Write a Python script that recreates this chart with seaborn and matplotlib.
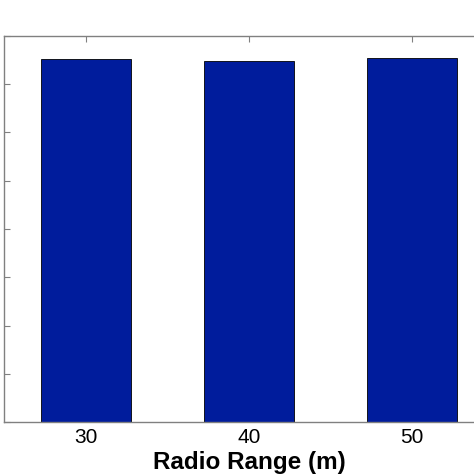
import pandas as pd
import seaborn as sns
import matplotlib.pyplot as plt

# =============================================================================
# Data
# =============================================================================
radio_range = ['30', '40', '50']
values = [0.752, 0.749, 0.754]

df = pd.DataFrame({'Radio Range': radio_range, 'Value': values})

# =============================================================================
# Plotting
# =============================================================================
sns.set_style('white')
plt.rcParams['font.family'] = ['Liberation Sans', 'DejaVu Sans']
plt.rcParams['text.color'] = 'black'
plt.rcParams['axes.labelcolor'] = 'black'
plt.rcParams['xtick.labelcolor'] = 'black'

fig = plt.figure(figsize=(4.74, 4.74), dpi=100)
# axes extends past the right edge, as in the cropped original
ax = fig.add_axes([4 / 474, 52 / 474, 490 / 474, 386 / 474])

sns.barplot(data=df, x='Radio Range', y='Value', color='#001c9c',
            saturation=1, width=0.55, edgecolor='black', linewidth=0.6, ax=ax)

ax.set_xlim(-0.5, 2.5)
ax.set_ylim(0, 0.8)
ax.set_yticks([i * 0.1 for i in range(9)])
ax.set_ylabel('')
ax.set_xlabel('Radio Range (m)', fontsize=17.5, fontweight='bold', labelpad=3)

for side in ['top', 'left', 'right', 'bottom']:
    ax.spines[side].set_color('#808080')
    ax.spines[side].set_linewidth(1.0)

ax.tick_params(axis='both', direction='in', length=4, color='#808080',
               top=True, right=True, left=True, bottom=True,
               labelleft=False)
ax.tick_params(axis='x', labelsize=15, pad=4)

fig.savefig('out.png', dpi=100)
